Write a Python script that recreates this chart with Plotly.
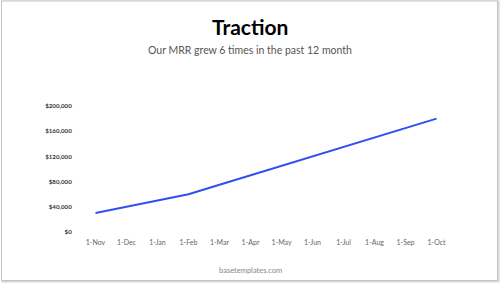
import plotly.graph_objects as go

months = ["1-Nov", "1-Dec", "1-Jan", "1-Feb", "1-Mar", "1-Apr",
          "1-May", "1-Jun", "1-Jul", "1-Aug", "1-Sep", "1-Oct"]
mrr = [30000, 40000, 50000, 60000, 75000, 90000,
       105000, 120000, 135000, 150000, 165000, 180000]
y_ticks = [0, 40000, 80000, 120000, 160000, 200000]
y_tick_labels = ["$0", "$40,000", "$80,000", "$120,000", "$160,000", "$200,000"]

W, H = 500, 283
L, R, T, B = 80, 48, 106, 51
pw, ph = W - L - R, H - T - B


def px(x):
    return (x - L) / pw


def py(y):
    return (H - B - y) / ph


FONT = "Lato"

fig = go.Figure()
fig.add_trace(go.Scatter(
    x=months, y=mrr, mode="lines",
    line=dict(color="#2f4ff0", width=2),
    hoverinfo="skip", showlegend=False,
))

fig.update_layout(
    width=W, height=H,
    margin=dict(l=L, r=R, t=T, b=B, pad=0),
    paper_bgcolor="white", plot_bgcolor="white",
    font=dict(family=FONT),
    xaxis=dict(
        type="category", range=[-0.5, 11.5],
        showgrid=False, zeroline=False, showline=False,
        ticks="outside", ticklen=4, tickcolor="rgba(0,0,0,0)",
        tickfont=dict(size=7, color="#666666", family=FONT),
    ),
    yaxis=dict(
        range=[0, 200000], tickvals=y_ticks,
        ticktext=["<b>%s</b>" % t for t in y_tick_labels],
        showgrid=False, zeroline=False, showline=False,
        ticks="outside", ticklen=6, tickcolor="rgba(0,0,0,0)",
        tickfont=dict(size=6.2, color="#333333", family=FONT),
    ),
    shapes=[
        dict(type="rect", xref="paper", yref="paper",
             x0=px(2.5), x1=px(498.5), y0=py(281.5), y1=py(1.5),
             line=dict(color="#d6d6d6", width=2), layer="below"),
        dict(type="rect", xref="paper", yref="paper",
             x0=px(1.5), x1=px(497.5), y0=py(280.5), y1=py(1.0),
             line=dict(color="#c4c4c4", width=1), fillcolor="white", layer="below"),
    ],
    annotations=[
        dict(text="<b>Traction</b>", xref="paper", yref="paper",
             x=px(250), y=py(26.5), xanchor="center", yanchor="middle",
             showarrow=False, font=dict(size=21, color="#000000", family=FONT)),
        dict(text="Our MRR grew 6 times in the past 12 month", xref="paper", yref="paper",
             x=px(250), y=py(49.5), xanchor="center", yanchor="middle",
             showarrow=False, font=dict(size=10.5, color="#555555", family=FONT)),
        dict(text="basetemplates.com", xref="paper", yref="paper",
             x=px(250), y=py(270.5), xanchor="center", yanchor="middle",
             showarrow=False, font=dict(size=7.5, color="#888888", family=FONT)),
    ],
)

fig.write_html("out.html")
